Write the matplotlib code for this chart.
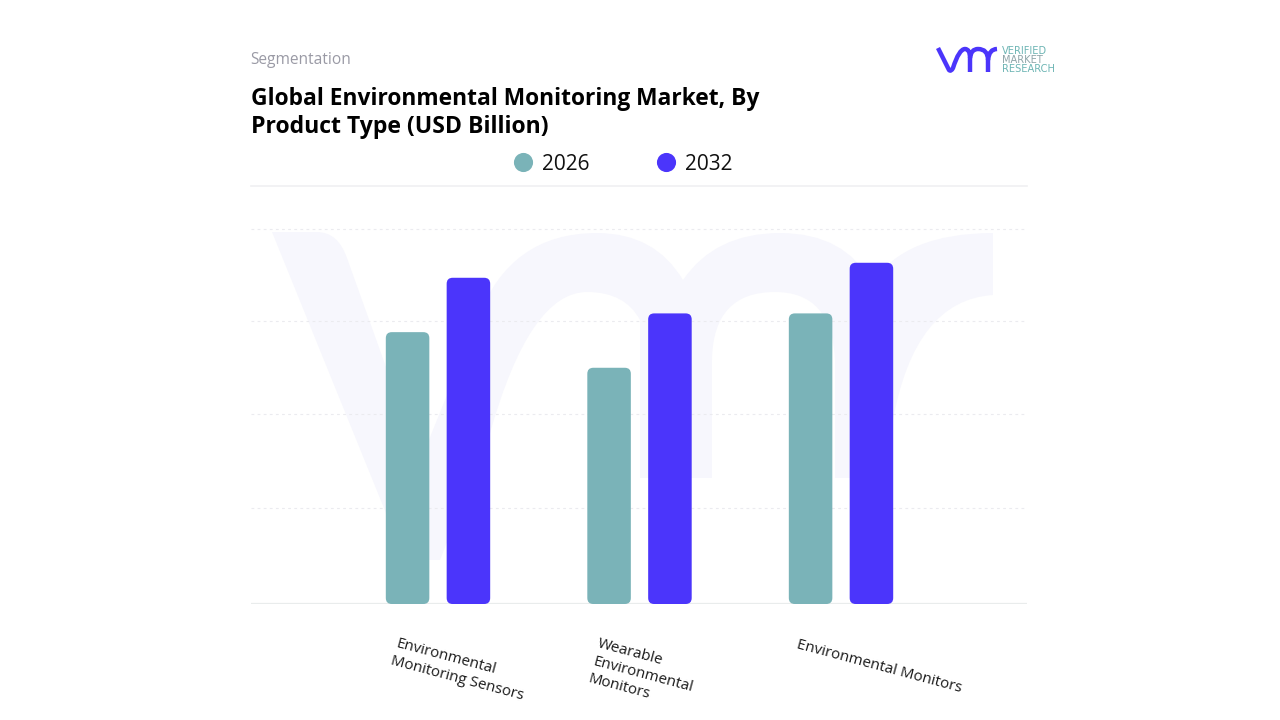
import matplotlib
matplotlib.use("Agg")
import matplotlib.pyplot as plt
from matplotlib.patches import FancyBboxPatch, PathPatch
from matplotlib.path import Path
import numpy as np

categories = ["Environmental\nMonitoring Sensors", "Wearable\nEnvironmental\nMonitors", "Environmental Monitors"]
values_2026 = [2.90, 2.52, 3.10]
values_2032 = [3.48, 3.10, 3.64]
grid_levels = [1.02, 2.03, 3.02, 4]

TEAL = "#7ab3b8"
BLUE = "#4b35fb"
WATERMARK = "#f7f7fd"

plt.rcParams["font.family"] = ["Open Sans", "DejaVu Sans"]

fig = plt.figure(figsize=(12.8, 7.2), dpi=100, facecolor="white")

# full page layer in pixels, for the watermark and the logo
bg = fig.add_axes([0, 0, 1, 1], zorder=0)
bg.set_xlim(0, 1280)
bg.set_ylim(720, 0)
bg.axis("off")

M, L, C = Path.MOVETO, Path.LINETO, Path.CURVE3


def shape(steps):
    verts, codes = [], []
    for code, *pts in steps:
        for p in pts:
            verts.append(p)
            codes.append(code)
    return Path(verts, codes)


# watermark
wm = [
    (M, (272, 232)), (L, (317, 232)), (C, (338, 232), (347, 258)),
    (L, (420, 462)), (L, (478, 318)), (C, (510, 233), (597, 233)),
    (C, (655, 233), (683, 280)), (C, (715, 233), (780, 233)),
    (C, (845, 233), (872, 283)), (C, (905, 233), (993, 233)),
    (L, (993, 295)), (C, (915, 300), (893, 420)),
    (L, (893, 478)), (L, (835, 478)), (L, (835, 360)),
    (C, (832, 292), (775, 292)), (C, (713, 292), (712, 360)),
    (L, (712, 478)), (L, (640, 478)), (L, (640, 320)),
    (C, (625, 292), (587, 292)), (C, (530, 292), (490, 433)),
    (L, (440, 560)), (L, (405, 560)), (L, (272, 232)),
]
bg.add_patch(PathPatch(shape(wm), fc=WATERMARK, ec="none"))

# logo mark
logo = [
    (M, (938, 48)), (L, (949, 70)), (C, (951, 72), (953, 68)), (C, (959, 49), (965, 49)),
    (C, (970, 49), (970, 58)), (L, (970, 72)),
    (M, (970, 58)), (C, (971, 49), (978, 49)), (C, (988, 49), (988, 60)), (L, (988, 72)),
    (M, (988, 60)), (C, (989, 49), (997, 49)),
]
bg.add_patch(PathPatch(shape(logo), fill=False, ec=BLUE, lw=3.2, capstyle="butt", joinstyle="round"))
bg.text(1002, 50.5, "VERIFIED", fontsize=7.1, family="DejaVu Sans", color="#6db5b4", va="center", ha="left")
bg.text(1002, 60, "MARKET", fontsize=7.1, family="DejaVu Sans", color="#8fa4a8", va="center", ha="left")
bg.text(1002, 69.5, "RESEARCH", fontsize=7.1, family="DejaVu Sans", color="#6db5b4", va="center", ha="left")

# chart axes, placed so gridlines and bars land as in the picture
ax = fig.add_axes([251 / 1280, 1 - 604 / 720, 776 / 1280, 418 / 720], zorder=1)
ax.patch.set_alpha(0)
ax.set_xlim(-0.928, 2.923)
ax.set_ylim(0, 4.459)

x = np.arange(len(categories))
offset = 0.151
width = 0.216
bars_a = ax.bar(x - offset, values_2026, width, color=TEAL, zorder=3)
bars_b = ax.bar(x + offset, values_2032, width, color=BLUE, zorder=3)

# swap the plain bars for rounded ones
r_px = 6
px_x = 776 / (2.923 + 0.928)
px_y = 418 / 4.459
for bars, col in ((bars_a, TEAL), (bars_b, BLUE)):
    for b in bars:
        b.set_visible(False)
        rx = r_px / px_x
        x0, w, h = b.get_x(), b.get_width(), b.get_height()
        ax.add_patch(FancyBboxPatch(
            (x0 + rx, rx * px_x / px_y), w - 2 * rx, h - 2 * rx * px_x / px_y,
            boxstyle=f"round,pad={rx},rounding_size={rx}",
            mutation_aspect=px_x / px_y, fc=col, ec="none", zorder=3))

for lev in grid_levels:
    ax.axhline(lev, color="#ebebef", lw=0.8, ls=(0, (2.5, 3)), zorder=1)
ax.axhline(0, color="#e9ecec", lw=1.6, zorder=2)
ax.axhline(4.459, color="#f0f0f2", lw=1.2, zorder=1, clip_on=False)

for s in ax.spines.values():
    s.set_visible(False)
ax.set_yticks([])
ax.set_xticks([])

# category labels, rotated as in the picture
label_pos = [(398, 636), (600, 636), (799, 637)]
for lab, (px, py) in zip(categories, label_pos):
    bg.text(px, py, lab, rotation=-15, rotation_mode="anchor", ha="left", va="top", multialignment="left",
            fontsize=10.9, color="#1a1a1a", linespacing=1.32, zorder=5)

# headings
fig.text(250 / 1280, 1 - 60 / 720, "Segmentation", fontsize=11.2, color="#9a9aa5", va="center")
fig.text(251 / 1280, 1 - 99 / 720, "Global Environmental Monitoring Market, By", fontsize=16.4,
         fontweight="bold", color="black", va="center")
fig.text(251 / 1280, 1 - 127 / 720, "Product Type (USD Billion)", fontsize=16.6,
         fontweight="bold", color="black", va="center")

# legend
bg.scatter([523], [162], s=190, color=TEAL, linewidths=0, zorder=5)
bg.scatter([666], [162], s=190, color=BLUE, linewidths=0, zorder=5)
bg.text(542, 164, "2026", fontsize=15, color="#111111", va="center")
bg.text(685, 165, "2032", fontsize=15, color="#111111", va="center")

fig.savefig("out.png", dpi=100)
